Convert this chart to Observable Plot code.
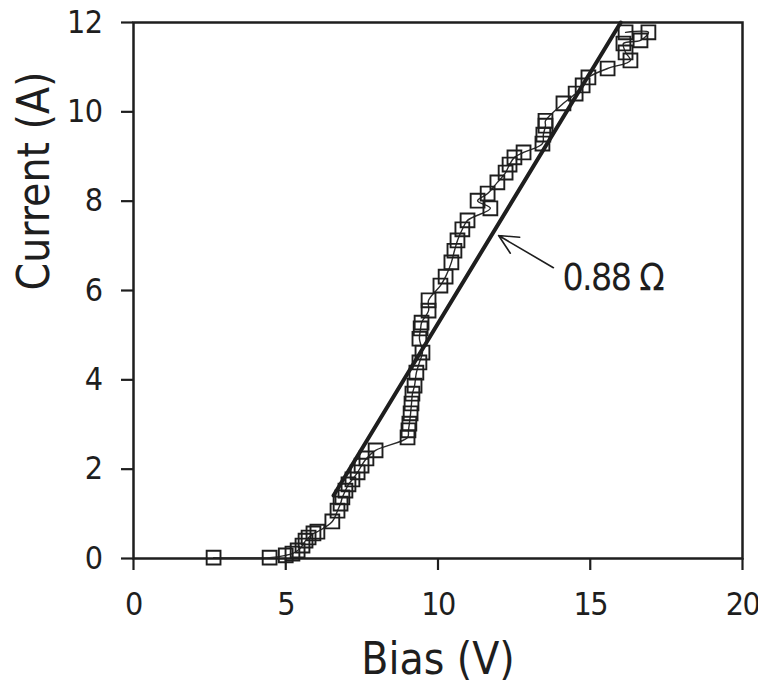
<!DOCTYPE html>
<html>
<head>
<meta charset="utf-8">
<script src="https://cdn.jsdelivr.net/npm/d3@7"></script>
<script src="https://cdn.jsdelivr.net/npm/@observablehq/plot@0.6"></script>
<style>
  html, body { margin: 0; padding: 0; background: #fff; }
  #chart svg { display: block; }
  g[aria-label="x-axis tick label"] text { letter-spacing: -1.5px; }
  g[aria-label="y-axis tick label"] text { letter-spacing: -0.5px; }
</style>
</head>
<body>
<div id="chart"></div>
<script>
// Measured I–V data (Bias in V, Current in A), in acquisition order
const bias = [2.63, 4.47, 5.0, 5.22, 5.39, 5.55, 5.65, 5.75, 5.91, 6.04,
  6.53, 6.7, 6.8, 6.86, 6.96, 7.06, 7.19, 7.36, 7.49, 7.65, 7.95,
  9.0, 9.03, 9.06, 9.1, 9.13, 9.16, 9.23, 9.29, 9.39, 9.49, 9.39, 9.43, 9.46,
  9.69, 9.69, 10.08, 10.25, 10.44, 10.54, 10.64, 10.8, 10.97, 11.72, 11.3,
  11.63, 11.95, 12.22, 12.35, 12.51, 12.81, 13.43, 13.46, 13.53, 13.53,
  14.12, 14.52, 14.75, 14.94, 15.57, 16.32, 16.16, 16.09, 16.65, 16.91, 16.16];
const current = [0.02, 0.02, 0.07, 0.11, 0.18, 0.29, 0.4, 0.47, 0.56, 0.6,
  0.83, 1.07, 1.23, 1.37, 1.52, 1.66, 1.77, 1.93, 2.08, 2.24, 2.42,
  2.71, 2.87, 3.02, 3.25, 3.47, 3.69, 3.87, 4.16, 4.39, 4.61, 4.92, 5.15, 5.28,
  5.55, 5.78, 6.11, 6.31, 6.63, 6.89, 7.12, 7.37, 7.57, 7.84, 8.01,
  8.17, 8.42, 8.64, 8.82, 8.98, 9.09, 9.29, 9.49, 9.69, 9.8,
  10.19, 10.41, 10.59, 10.77, 10.97, 11.15, 11.33, 11.53, 11.6, 11.78, 11.78];

// Linear fit (0.88 ohm) end points
const fitBias = [6.57, 16.0];
const fitCurrent = [1.41, 12.0];

// Annotation
const annoText = ["0.88 Ω"];
const annoArrowFrom = [13.79, 6.51];
const annoArrowTo = [11.99, 7.23];
const annoTextPos = [14.09, 6.27];

const xTicks = [0, 5, 10, 15, 20];
const yTicks = [0, 2, 4, 6, 8, 10, 12];
const xTitle = "Bias (V)";
const yTitle = "Current (A)";

const points = bias.map((b, i) => ({bias: b, current: current[i]}));
const fit = fitBias.map((b, i) => ({bias: b, current: fitCurrent[i]}));

const FONT = "'DejaVu Sans Condensed', 'DejaVu Sans', sans-serif";
const INK = "#1e1e1e";

const chart = Plot.plot({
  width: 758,
  height: 684,
  marginLeft: 133,
  marginRight: 16,
  marginTop: 22,
  marginBottom: 126,
  style: {fontFamily: FONT, fontSize: "32px", color: INK, background: "#fff", overflow: "visible"},
  x: {domain: [0, 20]},
  y: {domain: [0, 12]},
  marks: [
    Plot.frame({stroke: INK, strokeWidth: 2.5}),
    Plot.axisX({ticks: xTicks, tickSize: 12, tickPadding: 22, strokeWidth: 2.2, label: null, fontSize: 32}),
    Plot.axisY({ticks: yTicks, tickSize: 12, tickPadding: 19, strokeWidth: 2.2, label: null, fontSize: 32}),
    Plot.line(points, {x: "bias", y: "current", stroke: "#2a2a2a", strokeWidth: 1.4, curve: "catmull-rom"}),
    Plot.dot(points, {x: "bias", y: "current", symbol: "square", r: 7.8, stroke: INK, strokeWidth: 1.9, fill: "none"}),
    Plot.line(fit, {x: "bias", y: "current", stroke: INK, strokeWidth: 4}),
    Plot.arrow([0], {x1: () => annoArrowFrom[0], y1: () => annoArrowFrom[1], x2: () => annoArrowTo[0], y2: () => annoArrowTo[1],
      stroke: INK, strokeWidth: 1.6, headLength: 26, headAngle: 52}),
    Plot.text(annoText, {x: () => annoTextPos[0], y: () => annoTextPos[1], text: d => d, textAnchor: "start",
      lineAnchor: "middle", fontSize: 37, fill: INK, fontFamily: FONT, style: "letter-spacing:-1.6px"}),
    Plot.text([xTitle], {frameAnchor: "bottom", text: d => d, dy: 101, lineAnchor: "middle", fontSize: 44, fill: INK, fontFamily: FONT}),
    Plot.text([yTitle], {frameAnchor: "left", text: d => d, dx: -99, rotate: -90, lineAnchor: "middle", fontSize: 44, fill: INK, fontFamily: FONT})
  ]
});
// annotation letter spacing
chart.querySelectorAll("text").forEach(t => { if (t.textContent === annoText[0]) t.setAttribute("letter-spacing", "-1.6"); });
document.getElementById("chart").appendChild(chart);
</script>
</body>
</html>
